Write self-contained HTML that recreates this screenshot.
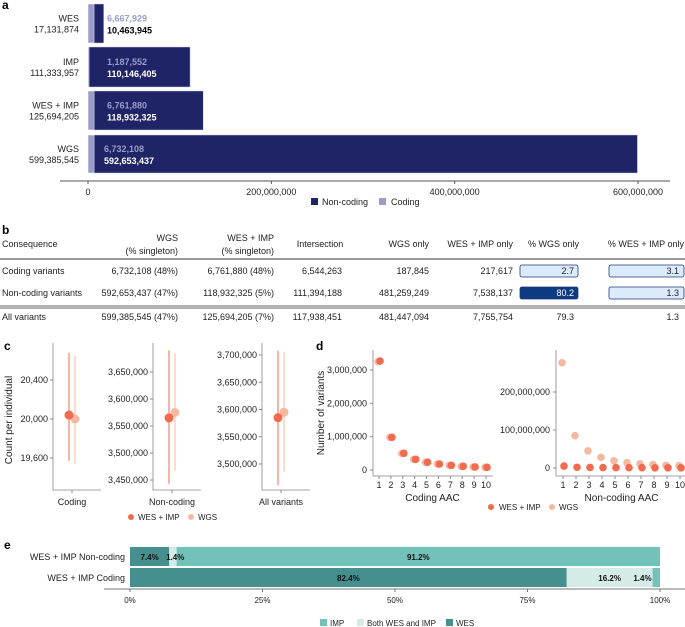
<!DOCTYPE html>
<html><head><meta charset="utf-8">
<style>
html,body{margin:0;padding:0;background:#fff;}
svg{display:block;font-family:"Liberation Sans",sans-serif;}
text{font-size:9px;fill:#222;}
.pl{font-size:12px;font-weight:bold;fill:#000;}
.b{font-weight:bold;}
</style></head>
<body>
<svg id="fig" width="685" height="627" viewBox="0 0 685 627"></svg>
<script>
// ---- panel a data ----
const aCats = ["WES","IMP","WES + IMP","WGS"];
const aTotals = ["17,131,874","111,333,957","125,694,205","599,385,545"];
const aCoding = [6667929, 1187552, 6761880, 6732108];
const aNonCoding = [10463945, 110146405, 118932325, 592653437];
const aTicks = [0, 200000000, 400000000, 600000000];
// ---- panel b data ----
const bHeaders = [["Consequence"],["WGS","(% singleton)"],["WES + IMP","(% singleton)"],["Intersection"],["WGS only"],["WES + IMP only"],["% WGS only"],["% WES + IMP only"]];
const bRows = [
 ["Coding variants","6,732,108 (48%)","6,761,880 (48%)","6,544,263","187,845","217,617","2.7","3.1"],
 ["Non-coding variants","592,653,437 (47%)","118,932,325 (5%)","111,394,188","481,259,249","7,538,137","80.2","1.3"],
 ["All variants","599,385,545 (47%)","125,694,205 (7%)","117,938,451","481,447,094","7,755,754","79.3","1.3"]];
// ---- panel c data ----
const cPanels = ["Coding","Non-coding","All variants"];
const cWesImpMean = [20040, 3565000, 3585000];
const cWgsMean = [20000, 3575000, 3595000];
const cWesImpLo = [19570, 3443000, 3461000];
const cWesImpHi = [20680, 3690000, 3708000];
const cWgsLo = [19540, 3467000, 3486000];
const cWgsHi = [20650, 3685000, 3705000];
const cTicks = [[19600,20000,20400],[3450000,3500000,3550000,3600000,3650000],[3500000,3550000,3600000,3650000,3700000]];
// ---- panel d data ----
const dAAC = [1,2,3,4,5,6,7,8,9,10];
const dCodingWesImp = [3270000,980000,500000,320000,235000,180000,140000,110000,92000,80000];
const dCodingWgs = [3250000,975000,495000,315000,230000,178000,138000,108000,90000,78000];
const dNonWesImp = [5000000,2000000,1500000,1200000,1000000,800000,700000,600000,500000,450000];
const dNonWgs = [277000000,85000000,45000000,28000000,19000000,14000000,11000000,9000000,7000000,6000000];
const dCodTicks = [0,1000000,2000000,3000000];
const dNonTicks = [0,100000000,200000000];
// ---- panel e data ----
const eCats = ["WES + IMP Non-coding","WES + IMP Coding"];
const eWes = [7.4, 82.4];
const eBoth = [1.4, 16.2];
const eImp = [91.2, 1.4];
const eTicks = [0,25,50,75,100];

const svg = document.getElementById('fig');
const NS = "http://www.w3.org/2000/svg";
function mk(tag, attrs, txt){const e=document.createElementNS(NS,tag);for(const k in attrs)e.setAttribute(k,attrs[k]);if(txt!==undefined)e.textContent=txt;svg.appendChild(e);return e;}
const fmt = v => v.toLocaleString('en-US');
const NAVY="#1f2466", LAV="#9a9ccc", DK="#f26b4f", LT="#f5b9a2";

// ===== Panel a =====
let e;
e=mk('text',{x:2,y:9,class:'pl'},'a');


const ax = v => 88 + v*(550/600000000);
const aY = [4,47,91,135], aH=[39,40,39,38];
aCats.forEach((c,i)=>{
  const y=aY[i], h=aH[i];
  e=mk('rect',{x:ax(0),y:y,width:ax(aCoding[i])-ax(0),height:h,fill:LAV,stroke:'#fff','stroke-width':0.5});
  
  
  e=mk('rect',{x:ax(aCoding[i]),y:y,width:ax(aCoding[i]+aNonCoding[i])-ax(aCoding[i]),height:h,fill:NAVY,stroke:'#c9cbe0','stroke-width':0.5});
  
  
  e=mk('text',{x:79,y:y+h/2-2,'text-anchor':'end'},c);
  
  
  e=mk('text',{x:79,y:y+h/2+9,'text-anchor':'end'},aTotals[i]);
  
  
  const tx = i===3?104:107;
  e=mk('text',{x:tx,y:y+h/2-2,fill:LAV,class:'b',style:'fill:'+LAV},fmt(aCoding[i]));
  
  
  e=mk('text',{x:tx,y:y+h/2+10,class:'b',style:'fill:'+(i===0?'#000':'#fff')},fmt(aNonCoding[i]));
  
  
});
e=mk('line',{x1:60,x2:670,y1:181,y2:181,stroke:'#555','stroke-width':1});


aTicks.forEach(t=>{
  mk('line',{x1:ax(t),x2:ax(t),y1:181,y2:184,stroke:'#555'});
  e=mk('text',{x:ax(t),y:195,'text-anchor':'middle'},fmt(t));
  
  
});
e=mk('rect',{x:311,y:198,width:7,height:7,fill:NAVY});


e=mk('text',{x:322,y:205},'Non-coding');


e=mk('rect',{x:379,y:198,width:7,height:7,fill:LAV});


e=mk('text',{x:391,y:205},'Coding');



// ===== Panel b =====
e=mk('text',{x:2,y:234,class:'pl'},'b');


const bX=[2,178,274,342,429,513,579,684];
bHeaders.forEach((h,j)=>{
  const anchor = j===0?'start':'end';
  let x = bX[j];
  if(j===3){x=320;}
  const a2 = j===3?'middle':anchor;
  if(h.length===1){
    e=mk('text',{x:x,y:247,'text-anchor':a2},h[0]);
  } else {
    e=mk('text',{x:x,y:241,'text-anchor':a2},h[0]);
    e=mk('text',{x:x,y:254,'text-anchor':a2},h[1]);
  }
  
  
});
mk('line',{x1:0,x2:685,y1:259,y2:259,stroke:'#333','stroke-width':1});
mk('line',{x1:0,x2:685,y1:306,y2:306,stroke:'#333','stroke-width':0.8});
mk('line',{x1:0,x2:685,y1:308,y2:308,stroke:'#333','stroke-width':0.8});
const bY=[274,296,320];
bRows.forEach((r,i)=>{
  r.forEach((v,j)=>{
    if(i<2 && j>=6){
      const bx = j===6?520:609, bw = j===6?58:75;
      const dark = v==="80.2";
      e=mk('rect',{x:bx,y:bY[i]-9,width:bw,height:12,rx:2,fill:dark?'#0d3b82':'#dcebfb',stroke:'#1f3a7a','stroke-width':0.8});
      
      
    }
    const x = j===0?2:(j===6?574:(j===7?679:bX[j]));
    e=mk('text',{x:x,y:bY[i],'text-anchor':j===0?'start':'end',style:(v==="80.2"?'fill:#fff':'')},v);
    
    
  });
});

// ===== Panel c =====
e=mk('text',{x:4,y:350,class:'pl'},'c');


e=mk('text',{x:0,y:0,transform:'translate(12,420) rotate(-90)','text-anchor':'middle',style:'font-size:10px'},'Count per individual');


const cAxX=[53,153,262];
const cScale=[ [20000,419,20400,380], [3500000,453,3650000,372], [3500000,464,3700000,355] ];
cPanels.forEach((p,k)=>{
  const [v0,y0,v1,y1]=cScale[k];
  const cy = v => y0 + (v-v0)*(y1-y0)/(v1-v0);
  const x0=cAxX[k];
  mk('path',{d:`M${x0} 343 V490 H${x0+48}`,fill:'none',stroke:'#888','stroke-width':0.8});
  mk('line',{x1:x0+19,x2:x0+19,y1:490,y2:493,stroke:'#888'});
  cTicks[k].forEach(t=>{
    mk('line',{x1:x0-3,x2:x0,y1:cy(t),y2:cy(t),stroke:'#888'});
    e=mk('text',{x:x0-5,y:cy(t)+3,'text-anchor':'end'},fmt(t));
    
    
  });
  const xd=x0+16, xl=x0+22;
  e=mk('line',{x1:xd,x2:xd,y1:cy(cWesImpLo[k]),y2:cy(cWesImpHi[k]),stroke:DK,'stroke-width':1});
  
  
  e=mk('line',{x1:xl,x2:xl,y1:cy(cWgsLo[k]),y2:cy(cWgsHi[k]),stroke:LT,'stroke-width':1});
  
  
  e=mk('circle',{cx:xl,cy:cy(cWgsMean[k]),r:4.5,fill:LT});
  
  
  e=mk('circle',{cx:xd,cy:cy(cWesImpMean[k]),r:4.5,fill:DK});
  
  
  e=mk('text',{x:x0+19,y:505,'text-anchor':'middle'},p);
  
  
});
e=mk('circle',{cx:131,cy:517,r:3,fill:DK});


e=mk('text',{x:138,y:520,style:'font-size:8px'},'WES + IMP');


e=mk('circle',{cx:191,cy:517,r:3,fill:LT});


e=mk('text',{x:198,y:520,style:'font-size:8px'},'WGS');



// ===== Panel d =====
e=mk('text',{x:316,y:350,class:'pl'},'d');


e=mk('text',{x:0,y:0,transform:'translate(324,413) rotate(-90)','text-anchor':'middle',style:'font-size:10px'},'Number of variants');


function dPlot(axX, xFirst, xLast, y0, yTopVal, yTop, ticks, wes, wgs, xlabel, nm){
  const dx = a => xFirst + (a-1)*(xLast-xFirst)/9;
  const dy = v => y0 - v*(y0-yTop)/yTopVal;
  mk('path',{d:`M${axX} 350 V476 H${xLast+7}`,fill:'none',stroke:'#888','stroke-width':0.8});
  ticks.forEach(t=>{
    mk('line',{x1:axX-3,x2:axX,y1:dy(t),y2:dy(t),stroke:'#888'});
    e=mk('text',{x:axX-6,y:dy(t)+3,'text-anchor':'end'},fmt(t));
    
    
  });
  dAAC.forEach(a=>{
    mk('line',{x1:dx(a),x2:dx(a),y1:476,y2:479,stroke:'#888'});
    e=mk('text',{x:dx(a),y:488,'text-anchor':'middle'},a);
    
    
  });
  dAAC.forEach((a,i)=>{
    e=mk('circle',{cx:dx(a)-1,cy:dy(wgs[i]),r:3.8,fill:LT});
    
    
    e=mk('circle',{cx:dx(a)+1,cy:dy(wes[i]),r:3.8,fill:DK});
    
    
  });
  e=mk('text',{x:(xFirst+xLast)/2,y:501,'text-anchor':'middle',style:'font-size:10px'},xlabel);
  
  
}
dPlot(373,379,486,470,3000000,370,dCodTicks,dCodingWesImp,dCodingWgs,'Coding AAC','coding');
dPlot(556,563,680,468,200000000,392,dNonTicks,dNonWesImp,dNonWgs,'Non-coding AAC','noncoding');
e=mk('circle',{cx:491,cy:507,r:3,fill:DK});


e=mk('text',{x:499,y:510,style:'font-size:8px'},'WES + IMP');


e=mk('circle',{cx:552,cy:507,r:3,fill:LT});


e=mk('text',{x:559,y:510,style:'font-size:8px'},'WGS');



// ===== Panel e =====
e=mk('text',{x:4,y:549,class:'pl'},'e');


const ex = p => 130 + p*5.3;
const eY=[547,568];
const WESC="#468f8f", BOTHC="#d4ebe8", IMPC="#72c2ba";
eCats.forEach((c,i)=>{
  const y=eY[i], h=19;
  const segs=[[0,eWes[i],WESC,'wes'],[eWes[i],eWes[i]+eBoth[i],BOTHC,'both'],[eWes[i]+eBoth[i],eWes[i]+eBoth[i]+eImp[i],IMPC,'imp']];
  segs.forEach(s=>{
    e=mk('rect',{x:ex(s[0]),y:y,width:ex(s[1])-ex(s[0]),height:h,fill:s[2]});
    
    
  });
  const vals=[eWes[i],eBoth[i],eImp[i]];
  segs.forEach((s,j)=>{
    let tx=(ex(s[0])+ex(s[1]))/2;
    if(s[1]-s[0]<3) tx=ex(s[0])+ (j===2?-1:6);
    e=mk('text',{x:tx,y:y+13,'text-anchor':s[1]-s[0]<3&&j===2?'end':'middle',class:'b',style:'font-size:8px;fill:#111'},vals[j].toFixed(1)+'%');
    
    
  });
  e=mk('text',{x:125,y:y+13,'text-anchor':'end'},c);
  
  
});
mk('line',{x1:104,x2:686,y1:589,y2:589,stroke:'#777','stroke-width':1});
eTicks.forEach(t=>{
  mk('line',{x1:ex(t),x2:ex(t),y1:589,y2:592,stroke:'#777'});
  e=mk('text',{x:ex(t),y:603,'text-anchor':'middle',style:'font-size:8px'},t+'%');
  
  
});
[[320,'IMP',IMPC,'imp'],[357,'Both WES and IMP',BOTHC,'both'],[446,'WES',WESC,'wes']].forEach(l=>{
  e=mk('rect',{x:l[0],y:619,width:7,height:7,fill:l[2]});
  
  
  e=mk('text',{x:l[0]+10,y:626,style:'font-size:8px'},l[1]);
  
  
});
</script>
</body></html>
